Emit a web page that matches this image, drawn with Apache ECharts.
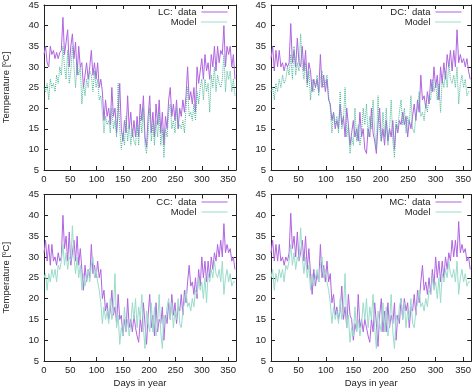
<!DOCTYPE html>
<html><head><meta charset="utf-8">
<script src="https://cdn.jsdelivr.net/npm/echarts@6/dist/echarts.min.js"></script>
<style>html,body{margin:0;padding:0;background:#fff}#c{width:474px;height:389px}</style>
</head><body><div id="c"></div>
<script>
const DAYS=[0,3,6,9,12,15,18,21,24,27,30,33,36,39,42,45,48,51,54,57,60,63,66,69,72,75,78,81,84,87,90,93,96,99,102,105,108,111,114,117,120,123,126,129,132,135,138,141,144,147,150,153,156,159,162,165,168,171,174,177,180,183,186,189,192,195,198,201,204,207,210,213,216,219,222,225,228,231,234,237,240,243,246,249,252,255,258,261,264,267,270,273,276,279,282,285,288,291,294,297,300,303,306,309,312,315,318,321,324,327,330,333,336,339,342,345,348,351,354,357,360,363];
const X_TICKS=[0,50,100,150,200,250,300,350];
const Y_TICKS=[5,10,15,20,25,30,35,40,45];

const LC_DATA=[33,35,31,30,35,33,34,32,33.5,32, 33.5,34,42,33,36,39,30,35,38,32, 36,28,35,30,31,25,28,31,27,30, 34,28,31,27,31,25,27,24,17,22, 18,20,16,25,18,20,14,19,26,15, 12,17,14,23,15,19,13,17,13,18, 13,21,17,23,13,10.5,18,23,14,19, 13,21,16,22,14,19,11,18,15,22, 25,18,21,17,22,15,20,18,22,19, 23,30,22,24,21,25,19,30,26,29, 32,27,33,29,31,27,33,30,35,29, 35,31,34,33,40,30,35,33,35,30, 33,27];
const LC_MODEL=[25,24,26,22,27,25,26,24,28,26, 30,28,35,30,27,34,26,29,35,30, 25,31,28,30,21,26,23,27,25,29, 28,24,29,25,27,22,23,19,14,18, 16,17,14,20,15,17,13,26,15,10, 14,11,18,12,16,11,15,12,11,16, 11,18,14,20,11,9,14,20,12,16, 11,17,13,19,11,15,8,15,13,19, 21,15,17,14,20,15,16,15,17,14, 20,25,18,19,17,21,17,24,21,25, 27,22,27,24,26,19,28,25,30,24, 28,26,25,27,33,24,29,27,29,24, 27,23];
const DC_DATA=[32,35,29,34,30,34,30,31,29,31, 30,31,40.5,31,34,30,37,31,30,35, 29,34,26,31,29,24,27,25,27,24, 33,25,28,24,27,22,21,17,19,15, 17,15,21,16,18,13,20,16,11,14, 17,13,15,12,19,13,15,10,9,15, 13,20,14,12,9,16,20,12,15,11, 17,12,15,13,17,10,16,14,17,16, 19,16,18,13,17,15,18,21,17,22, 19,28,22,23,20,24,21,27,24,30, 25,28,22,30,26,31,27,33,30,34, 29,34,30,39,31,33,31,32,30,32, 29,27];
const DC_MODEL=[24,25,22,26,24,27,25,28,26,27, 30,28,33,27,35,28,31,29,38,30, 27,31,25,29,22,27,24,25,28,23, 27,29,25,26,28,23,20,14,19,16, 18,14,24,15,17,25,13,16,9,13, 11,20,12,16,11,14,20,16,21,13, 18,15,22,14,10,23,15,12,19,13, 20,11,15,22,12,8,17,15,19,22, 16,20,14,18,16,23,15,14,18,20, 24,18,19,17,21,19,23,22,27,24, 26,22,26,19,27,25,29,25,31,27, 26,28,25,30,21,26,28,25,27,23, 24,24];
const CC_DATA=[31,34,29,33,28,33,29,30,28,31, 29,30,40,32,35,29,36,28,31,34, 29,35,28,32,27,22,28,24,27,25, 33,26,28,25,29,25,27,20,22,17, 19,15,17,22,16,18,14,21,15,16, 11,15,12,20,13,15,12,16,13,11, 9.5,15,12,19,14,9,16,21,13,16, 11,19,12,15,14,18,10,16,14,19, 15,21,16,19,14,18,17,21,16,22, 19,24,28,23,24,21,25,20,27,23, 30,25,29,24,29,25,30,27,31,29, 33,30,34,30,38,31,33,31,32,29, 30,27];
const CC_MODEL=[25,26,22,26,24,27,25,27,24,28, 27,29,33,28,31,27,30,29,37.5,30, 26,30,25,28,22,26,23,25,27,24, 28,30,25,27,24,22,19,14,18,15, 17,14,20,15,17,26,13,16,9,13, 11,18,12,15,11,14,19,15,20,13, 18,15,21,13,8,17,14,12,19,12, 18,11,14,21,12,8,16,14,18,20, 15,19,13,17,15,20,14,13,17,19, 22,18,19,17,20,18,22,21,25,22, 24,20,25,19,26,24,27,25,29,26, 25,27,24,29,21,25,27,24,26,23, 24,24];
const MC_DATA=[31,34,29,33,29,33,29,30,28,30, 29,31,40.5,32,35,30,36,29,31,34, 29,35,27,32,26,21,27,23,26,24, 33,25,28,24,29,24,26,19,21,16, 18,15,17,23,15,18,13,21,16,15, 10,14,12,21,13,15,12,15,13,11, 9.5,15,12,19,14,8.5,16,20,12,17, 12,19,13,16,14,19,10,16,14,20, 15,20,17,19,13,18,17,21,16,22, 19,24,28,22,24,21,25,21,27,23, 30,25,29,24,29,25,30,27,31,29, 34,30,34,30,38.5,31,33,31,32,29, 30,27];
const MC_MODEL=[25,27,22,26,24,27,25,27,24,28, 27,29,33,28,31,27,30,29,37,30, 26,30,25,28,22,26,23,25,27,24, 28,30,25,27,24,22,19,14,18,15, 17,14,20,15,17,26,13,16,9.5,13, 11,18,12,15,11,14,19,15,20,13, 18,15,21,13,8,17,14,12,19,12, 18,11,14,21,12,8,16,14,18,20, 15,19,13,17,15,20,14,13,17,19, 22,18,19,17,20,18,22,21,25,22, 24,20,25,19,26,24,27,25,29,26, 25,27,24,29,21,25,27,24,26,23, 24,24];

const FONT='"Liberation Sans", Arial, sans-serif';
const TXT='#222';
const DATA_COLOR='#b065e0';
const panels=[
 {key:'LC',d:LC_DATA,m:LC_MODEL,left:37,top:4,width:199,height:166,mc:'#45b595',mt:'dotted',yName:true,xName:false,lr:246,lt:7},
 {key:'DC',d:DC_DATA,m:DC_MODEL,left:271,top:4,width:202,height:166,mc:'#45b595',mt:'dotted',yName:false,xName:false,lr:12,lt:7},
 {key:'CC',d:CC_DATA,m:CC_MODEL,left:37,top:194.5,width:199,height:166.5,mc:'#9adccb',mt:'solid',yName:true,xName:true,lr:246,lt:197},
 {key:'MC',d:MC_DATA,m:MC_MODEL,left:271,top:194.5,width:202,height:166.5,mc:'#9adccb',mt:'solid',yName:false,xName:true,lr:12,lt:197}
];
const grid=[],xAxis=[],yAxis=[],series=[],legend=[];
const axLine={show:true,onZero:false,lineStyle:{color:'#222',width:1}};
const tick={show:true,inside:true,length:4,lineStyle:{color:'#222',width:1}};
panels.forEach((p,i)=>{
  grid.push({left:p.left,top:p.top,width:p.width,height:p.height,containLabel:false});
  const xb={gridIndex:i,type:'value',min:X_TICKS[0],max:365,interval:50,axisLine:axLine,axisTick:tick,splitLine:{show:false}};
  xAxis.push(Object.assign({},xb,{position:'bottom',axisLabel:{show:true,fontSize:9.5,color:TXT,fontFamily:FONT,margin:4},
    name:p.xName?'Days in year':'',nameLocation:'middle',nameGap:17,nameTextStyle:{fontSize:9.5,color:TXT,fontFamily:FONT}}));
  const yb={gridIndex:i,type:'value',min:Y_TICKS[0],max:Y_TICKS[Y_TICKS.length-1],interval:5,axisLine:axLine,axisTick:tick,splitLine:{show:false}};
  yAxis.push(Object.assign({},yb,{position:'left',axisLabel:{show:true,fontSize:9.5,color:TXT,fontFamily:FONT,margin:5},
    name:p.yName?'Temperature [ºC]':'',nameLocation:'middle',nameRotate:90,nameGap:33,nameTextStyle:{fontSize:9.5,color:TXT,fontFamily:FONT}}));
  const dn=p.key+':  data', mn=p.key+' Model';
  series.push({type:'line',name:dn,xAxisIndex:i,yAxisIndex:i,data:DAYS.map((d,k)=>[d,p.d[k]]),showSymbol:false,symbol:'none',
    lineStyle:{color:DATA_COLOR,width:1},itemStyle:{color:DATA_COLOR},z:2});
  series.push({type:'line',name:mn,xAxisIndex:i,yAxisIndex:i,data:DAYS.map((d,k)=>[d,p.m[k]]),showSymbol:false,symbol:'none',
    lineStyle:{color:p.mc,width:1,type:p.mt},itemStyle:{color:p.mc},z:3});
  legend.push({orient:'vertical',right:p.lr,top:p.lt,align:'right',itemWidth:26,itemHeight:9,itemGap:0,padding:0,selectedMode:false,
    itemStyle:{opacity:0,borderWidth:0},
    data:[{name:dn,lineStyle:{width:1,type:'solid'}},{name:mn,lineStyle:{width:1,type:p.mt}}],
    formatter:n=>n.endsWith('Model')?'Model':n,textStyle:{fontSize:9.5,lineHeight:9.5,color:TXT,fontFamily:FONT}});
});
panels.forEach((p,i)=>{
  xAxis.push({gridIndex:i,type:'value',min:0,max:365,interval:50,position:'top',axisLine:axLine,axisTick:tick,axisLabel:{show:false},splitLine:{show:false}});
  yAxis.push({gridIndex:i,type:'value',min:5,max:45,interval:5,position:'right',axisLine:axLine,axisTick:tick,axisLabel:{show:false},splitLine:{show:false}});
});
const chart=echarts.init(document.getElementById('c'),null,{renderer:'canvas'});
chart.setOption({animation:false,backgroundColor:'#fff',grid,xAxis,yAxis,series,legend});
</script></body></html>
